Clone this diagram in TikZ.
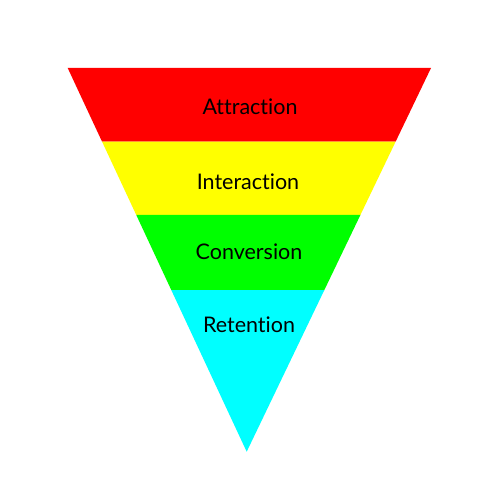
\documentclass[tikz,border=0pt]{standalone}
\usepackage{fontspec}
\setmainfont{Lato}[RawFeature={-liga;-dlig;-clig;-calt}]
\usetikzlibrary{calc}
\definecolor{fred}{HTML}{FF0000}
\definecolor{fyellow}{HTML}{FFFF00}
\definecolor{fgreen}{HTML}{00FF00}
\definecolor{fcyan}{HTML}{00FFFF}
\begin{document}
\begin{tikzpicture}[x=1pt,y=-1pt,
  lbl/.style={font=\fontsize{21.5}{25}\selectfont, text=black, inner sep=0pt}]
\useasboundingbox[fill=white] (0,0) rectangle (500,500);
\coordinate (TL) at (67.7,68);
\coordinate (TR) at (431,68);
\coordinate (A) at (246.7,451.7);
\coordinate (L1) at ($(TL)!0.1921!(A)$);
\coordinate (R1) at ($(TR)!0.1921!(A)$);
\coordinate (L2) at ($(TL)!0.3831!(A)$);
\coordinate (R2) at ($(TR)!0.3831!(A)$);
\coordinate (L3) at ($(TL)!0.5786!(A)$);
\coordinate (R3) at ($(TR)!0.5786!(A)$);
\fill[fred] (TL) -- (TR) -- (R1) -- (L1) -- cycle;
\fill[fyellow] (L1) -- (R1) -- (R2) -- (L2) -- cycle;
\fill[fgreen] (L2) -- (R2) -- (R3) -- (L3) -- cycle;
\fill[fcyan] (L3) -- (R3) -- (A) -- cycle;
\node[lbl] (att) at (250,107) {Attraction};
\node[lbl] (int) at (248,182) {Interaction};
\node[lbl] (con) at (249,252) {Conversion};
\node[lbl] (ret) at (249,325) {Retention};
\end{tikzpicture}
\end{document}
